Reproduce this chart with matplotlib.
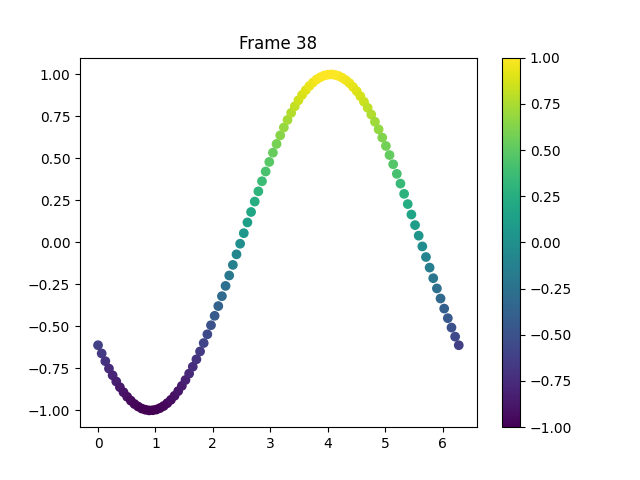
import numpy as np
import matplotlib
matplotlib.use("Agg")
import matplotlib.pyplot as plt

# Values (100 evenly spaced samples from 0 to 2*pi)
x_start = 0.0
x_end = 6.2832
n_points = 100

y_values = [
    -0.612, -0.661, -0.707, -0.751, -0.791, -0.828, -0.862, -0.892, -0.919, -0.942,
    -0.962, -0.977, -0.989, -0.996, -1.000, -0.999, -0.995, -0.986, -0.974, -0.957,
    -0.937, -0.913, -0.885, -0.854, -0.819, -0.781, -0.740, -0.696, -0.649, -0.599,
    -0.547, -0.493, -0.437, -0.379, -0.320, -0.259, -0.197, -0.134, -0.071, -0.008,
    0.055, 0.119, 0.181, 0.243, 0.304, 0.364, 0.422, 0.479, 0.534, 0.586,
    0.637, 0.684, 0.729, 0.771, 0.810, 0.846, 0.878, 0.906, 0.931, 0.952,
    0.970, 0.983, 0.993, 0.998, 1.000, 0.997, 0.991, 0.980, 0.966, 0.948,
    0.925, 0.900, 0.870, 0.837, 0.801, 0.761, 0.718, 0.673, 0.624, 0.574,
    0.520, 0.465, 0.408, 0.350, 0.289, 0.228, 0.166, 0.103, 0.040, -0.024,
    -0.087, -0.150, -0.213, -0.274, -0.334, -0.394, -0.451, -0.507, -0.561, -0.612,
]

frame = 38

x_values = np.linspace(x_start, x_end, n_points)
y = np.array(y_values)

fig, ax = plt.subplots(figsize=(6.4, 4.8), dpi=100)
sc = ax.scatter(x_values, y, c=y, cmap="viridis")
fig.colorbar(sc, ax=ax)
ax.set_title(f"Frame {frame}")

plt.savefig("out.png")
